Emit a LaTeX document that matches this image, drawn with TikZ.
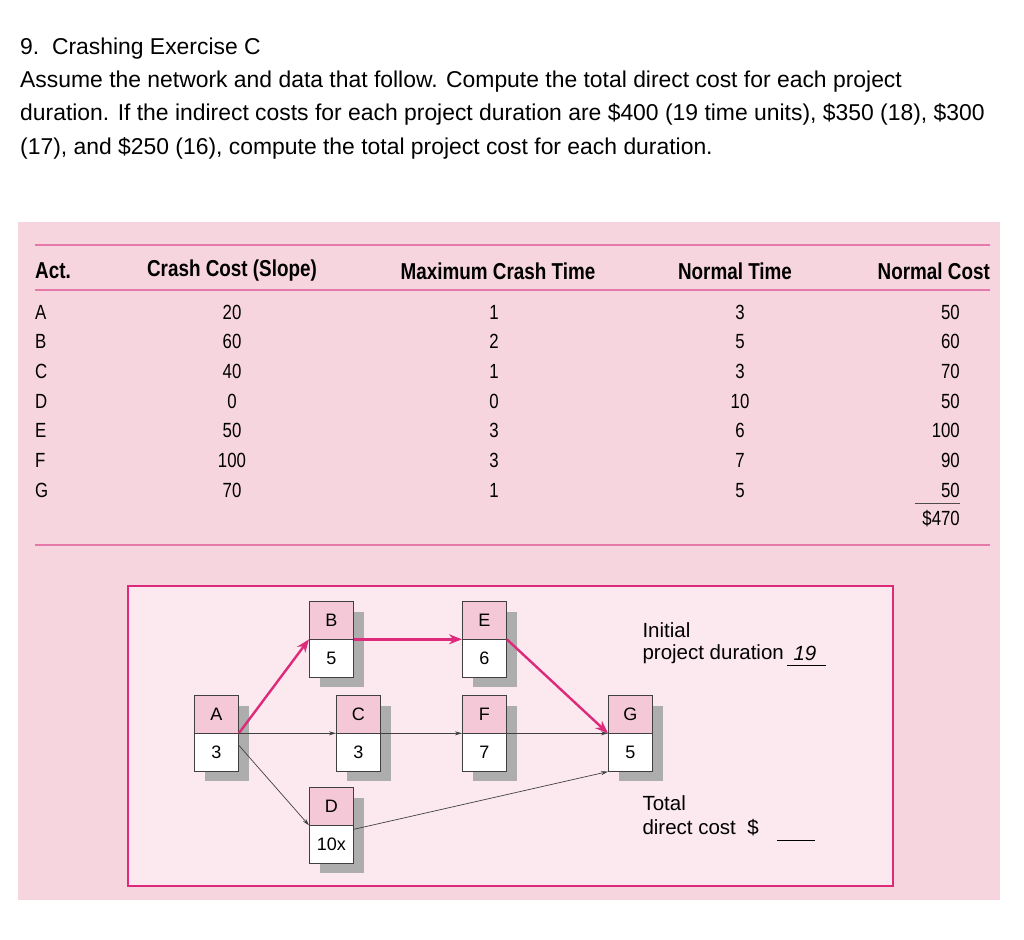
\documentclass[tikz,border=0pt]{standalone}
\usepackage{fontspec}
\setmainfont{Liberation Sans}
\newfontfamily\narrow[FakeStretch=0.82]{Liberation Sans}
\usetikzlibrary{arrows.meta}
\definecolor{panel}{HTML}{F6D5DF}
\definecolor{inner}{HTML}{FCE9EF}
\definecolor{mag}{HTML}{DD2A7B}
\definecolor{rule}{HTML}{E57AAA}
\definecolor{top}{HTML}{F4C8D6}
\tikzset{
 half/.style={draw=black!75,line width=0.8pt,minimum width=44pt,minimum height=37.5pt,inner sep=0pt,font=\fontsize{18}{18}\selectfont},
 crit/.style={draw=mag,line width=2.4pt,-{Stealth[length=13pt,width=10pt]}},
 thin/.style={draw=black!75,line width=0.7pt,-{Stealth[length=7pt,width=4pt]}},
 hd/.style={font=\narrow\bfseries\fontsize{23}{23}\selectfont},
 cell/.style={font=\narrow\fontsize{20.5}{20}\selectfont},
 lbl/.style={anchor=west,font=\fontsize{20.5}{20}\selectfont}
}
\begin{document}
\begin{tikzpicture}[x=1pt,y=-1pt]
\useasboundingbox (0,0) rectangle (1024,939);
\fill[white] (0,0) rectangle (1024,939);
\begin{scope}[every node/.style={anchor=base west,inner sep=0pt,font=\fontsize{22.9}{22}\selectfont}]
\node (t1) at (20,55) {9.\ \ Crashing Exercise C};
\node (t2) at (20,88) {Assume the network and data that follow. Compute the total direct cost for each project};
\node (t3) at (20,121) {duration. If the indirect costs for each project duration are \$400 (19 time units), \$350 (18), \$300};
\node (t4) at (20,154) {(17), and \$250 (16), compute the total project cost for each duration.};
\end{scope}
\fill[panel] (18,222) rectangle (1000,900);
\draw[rule,line width=2pt] (35,245) -- (990,245);
\draw[rule,line width=2pt] (35,290) -- (990,290);
\draw[rule,line width=2pt] (35,545) -- (990,545);
\node[hd,anchor=west,inner sep=0pt] (h1) at (35,271) {Act.};
\node[hd,inner sep=0pt] (h2) at (232,271) {Crash Cost (Slope)};
\node[hd,inner sep=0pt] (h3) at (498,271) {Maximum Crash Time};
\node[hd,inner sep=0pt] (h4) at (735,271) {Normal Time};
\node[hd,anchor=east,inner sep=0pt] (h5) at (990,271) {Normal Cost};
\foreach \a/\b/\c/\d/\e [count=\i] in {A/20/1/3/50,B/60/2/5/60,C/40/1/3/70,D/0/0/10/50,E/50/3/6/100,F/100/3/7/90,G/70/1/5/50}{
 \pgfmathsetmacro\yy{312+29.7*(\i-1)}
 \node[cell,anchor=west,inner sep=0pt] (ra\i) at (35,\yy) {\a};
 \node[cell,inner sep=0pt] (rb\i) at (232,\yy) {\b};
 \node[cell,inner sep=0pt] (rc\i) at (494,\yy) {\c};
 \node[cell,inner sep=0pt] (rd\i) at (740,\yy) {\d};
 \node[cell,anchor=east,inner sep=0pt] (re\i) at (960,\yy) {\e};
}
\draw[black!70,line width=0.8pt] (915,503) -- (960,503);
\node[cell,anchor=east,inner sep=0pt] (tot) at (960,519) {\$470};
\draw[fill=inner,draw=mag,line width=2pt] (128,586) rectangle (893,886);
\foreach \n/\x/\y/\l/\v in {A/194/695/A/3,B/309/601/B/5,E/462/601/E/6,C/336/695/C/3,F/462/695/F/7,G/608/695/G/5,D/309/787/D/10x}{
 \fill[black!32] (\x+11,\y+11) rectangle (\x+55,\y+86);
 \node[half,fill=top,anchor=north west] (\n t) at (\x,\y) {\l};
 \node[half,fill=white,anchor=north] (\n b) at (\n t.south) {\v};
}
\draw[crit] (At.south east) -- (Bt.south west);
\draw[crit] (Bt.south east) -- (Et.south west);
\draw[crit] (Et.south east) -- (Gt.south west);
\draw[thin] (At.south east) -- (Ct.south west);
\draw[thin] (Ct.south east) -- (Ft.south west);
\draw[thin] (Ft.south east) -- (Gt.south west);
\draw[thin] ([yshift=-12pt]At.south east) -- (Dt.south west);
\draw[thin] ([yshift=-4pt]Dt.south east) -- (Gb.south west);
\node[lbl] (i1) at (639,630) {Initial};
\node[lbl] (i2) at (639,654) {project duration};
\draw[black,line width=0.8pt] (787,665) -- (826,665);
\node[lbl,font=\itshape\fontsize{20.5}{20}\selectfont] (i3) at (790,653) {19};
\node[lbl] (d1) at (639,803) {Total};
\node[lbl] (d2) at (639,828) {direct cost\ \ \$};
\draw[black,line width=0.8pt] (777,840) -- (815,840);
\end{tikzpicture}
\end{document}
